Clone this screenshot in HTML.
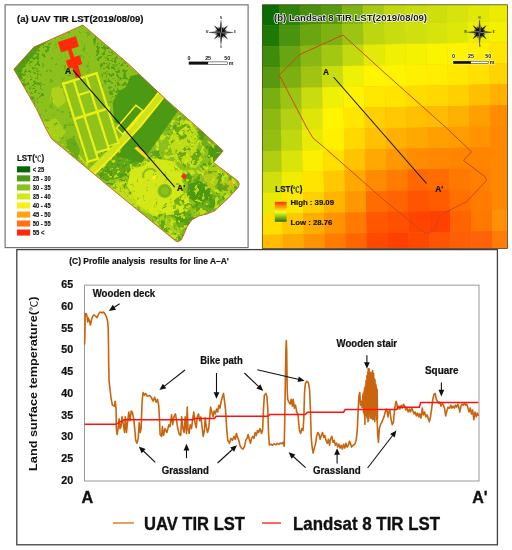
<!DOCTYPE html>
<html lang="en"><head><meta charset="utf-8"><title>UAV TIR LST and Landsat 8 TIR LST profile analysis</title>
<style>html,body{margin:0;padding:0;background:#fff;}svg{display:block;filter:blur(0.35px);}text{font-family:"Liberation Sans","Noto Sans CJK KR",sans-serif;font-weight:bold;}</style></head><body>
<svg width="512" height="550" viewBox="0 0 512 550">
<rect x="0" y="0" width="512" height="550" fill="#fff"/>
<defs>
<clipPath id="clipA"><polygon points="82.9,25.0 128.0,63.5 166.6,100.0 200.0,129.5 223.2,150.8 213.5,162.5 237.9,181.0 239.3,184.0 238.2,187.5 228.0,198.5 214.5,211.0 207.0,214.0 198.8,216.0 192.0,219.8 187.1,226.6 184.5,233.0 181.5,239.8 178.5,241.6 176.3,241.5 128.0,202.2 110.0,187.4 51.5,138.8 45.5,128.0 36.4,108.8 13.9,69.2 33.7,47.2"/></clipPath>
<filter id="fDark" x="0" y="0" width="100%" height="100%" color-interpolation-filters="sRGB"><feTurbulence type="fractalNoise" baseFrequency="0.22" numOctaves="3" seed="4"/><feColorMatrix type="matrix" values="0 0 0 0 0.298  0 0 0 0 0.604  0 0 0 0 0.078  14 0 0 0 -9.0"/></filter>
<filter id="fDark2" x="0" y="0" width="100%" height="100%" color-interpolation-filters="sRGB"><feTurbulence type="fractalNoise" baseFrequency="0.3" numOctaves="2" seed="11"/><feColorMatrix type="matrix" values="0 0 0 0 0.298  0 0 0 0 0.604  0 0 0 0 0.078  16 0 0 0 -8.8"/></filter>
<filter id="fLight" x="0" y="0" width="100%" height="100%" color-interpolation-filters="sRGB"><feTurbulence type="fractalNoise" baseFrequency="0.14" numOctaves="3" seed="23"/><feColorMatrix type="matrix" values="0 0 0 0 0.549  0 0 0 0 0.753  0 0 0 0 0.11  0 16 0 0 -8.0"/></filter>
<filter id="fYG" x="0" y="0" width="100%" height="100%" color-interpolation-filters="sRGB"><feTurbulence type="fractalNoise" baseFrequency="0.2" numOctaves="3" seed="31"/><feColorMatrix type="matrix" values="0 0 0 0 0.831  0 0 0 0 0.91  0 0 0 0 0.09  0 0 14 0 -8.2"/></filter>
<clipPath id="clipLow"><polygon points="40,120 92,178 166,94 245,180 180,245"/></clipPath>
<clipPath id="clipUL"><polygon points="13,69 33,47 56,38 50,52 42,60 38,76 44,96 34,104"/><polygon points="92,28 128,63 128,84 112,100 100,72 94,50"/><polygon points="84,150 122,146 152,162 130,196 100,180"/></clipPath>
<clipPath id="clipR"><polygon points="166,100 242,184 178,246 150,216 186,192 182,164 168,140"/></clipPath>
<filter id="fDark3" x="0" y="0" width="100%" height="100%" color-interpolation-filters="sRGB"><feTurbulence type="fractalNoise" baseFrequency="0.12" numOctaves="3" seed="57"/><feColorMatrix type="matrix" values="0 0 0 0 0.298  0 0 0 0 0.604  0 0 0 0 0.078  0 16 0 0 -8.4"/></filter>
</defs>
<rect x="5.1" y="4.85" width="243" height="242.75" fill="#fff" stroke="#707070" stroke-width="1.15"/>
<g clip-path="url(#clipA)">
<rect x="0" y="0" width="256" height="256" fill="#8cc01c"/>
<polygon points="13.9,69.2 34.0,46.8 46.0,41.5 40.0,47.0 36.0,53.0 26.0,64.0 21.0,71.0 22.5,80.0 19.0,79.0" fill="#4c9a14" opacity="0.9"/>
<g clip-path="url(#clipUL)"><rect x="0" y="0" width="256" height="256" filter="url(#fDark2)" opacity="0.85"/></g>
<polygon points="208.6,147.0 218.0,145.0 223.0,151.0 214.0,161.5 208.0,158.0" fill="#4c9a14" />
<polygon points="188.0,184.0 200.0,181.0 211.0,188.0 208.0,200.0 196.0,203.0 187.0,196.0" fill="#4c9a14" />
<polygon points="199.0,126.0 206.0,134.0 201.0,141.0 194.0,134.0" fill="#4c9a14" opacity="0.7"/>
<polygon points="99.0,172.0 124.0,146.0 134.0,152.0 140.0,162.0 126.0,176.0 112.0,180.0 104.0,180.0" fill="#4c9a14" opacity="0.6"/>
<polygon points="66.0,140.0 74.0,137.0 80.0,150.0 78.0,159.0 70.0,156.0" fill="#4c9a14" opacity="0.55"/>
<polygon points="168.0,205.0 186.0,209.0 184.0,222.0 172.0,226.0 165.0,216.0" fill="#4c9a14" opacity="0.6"/>
<polygon points="150.0,152.0 158.0,150.0 162.0,160.0 152.0,164.0" fill="#4c9a14" opacity="0.7"/>
<polygon points="131.0,169.0 143.0,166.0 153.0,158.0 172.0,161.0 182.0,171.0 183.0,192.0 191.0,204.0 181.0,214.0 153.0,216.0 138.0,204.0 127.0,186.0" fill="#d4e817" />
<polygon points="181.0,120.0 190.0,121.0 201.0,138.0 196.0,150.0 203.0,160.0 196.0,168.0 184.0,166.0 174.0,158.0 168.0,140.0" fill="#d4e817" opacity="0.7"/>
<polygon points="199.0,166.0 214.0,163.0 236.0,181.0 238.0,186.0 228.0,199.0 212.0,190.0 204.0,180.0" fill="#d4e817" opacity="0.4"/>
<polygon points="52.0,88.0 62.0,86.0 66.0,102.0 58.0,108.0 50.0,100.0" fill="#d4e817" opacity="0.45"/>
<polygon points="43.0,122.0 56.0,118.0 66.0,132.0 58.0,142.0 50.0,136.0" fill="#d4e817" opacity="0.4"/>
<polygon points="110.0,188.0 128.0,203.0 150.0,215.0 140.0,205.0 126.0,190.0 118.0,180.0" fill="#d4e817" opacity="0.7"/>
<polygon points="160.0,212.0 175.0,218.0 180.0,232.0 175.0,240.0 160.0,228.0" fill="#d4e817" opacity="0.4"/>
<polygon points="196.0,197.0 212.0,193.0 222.0,200.0 210.0,212.0 196.0,211.0" fill="#4c9a14" opacity="0.5"/>
<polygon points="176.0,214.0 190.0,210.0 192.0,220.0 184.0,230.0 176.0,226.0" fill="#4c9a14" opacity="0.45"/>
<polygon points="200.0,128.0 214.0,142.0 208.0,150.0 196.0,140.0" fill="#4c9a14" opacity="0.45"/>
<rect x="0" y="0" width="256" height="256" filter="url(#fDark)" opacity="0.5"/>
<g clip-path="url(#clipR)"><rect x="0" y="0" width="256" height="256" filter="url(#fDark3)" opacity="0.75"/></g>
<g clip-path="url(#clipLow)"><rect x="0" y="0" width="256" height="256" filter="url(#fYG)" opacity="0.8"/></g>
<polygon points="139.5,74.0 161.0,94.5 139.0,121.5 128.0,120.0 121.0,126.0 114.5,122.0 112.5,103.0 118.0,92.0 126.0,87.0 130.5,76.0" fill="#4c9a14" />
<polygon points="162.4,96.2 178.0,111.0 166.0,128.0 152.0,148.0 141.5,163.0 131.0,160.0 118.5,157.0 122.7,145.7 140.3,126.4" fill="#4c9a14" />
<polyline points="89.1,173.7 91.7,171.0 111.0,151.7 125.1,136.8 137.4,123.6 157.1,99.0 161.1,93.7" fill="none" stroke="#cfe418" stroke-width="6.2"/>
<polyline points="92.0,176.5 94.6,173.8 113.9,154.5 128.0,139.6 140.3,126.4 160.0,101.8 164.0,96.5" fill="none" stroke="#ffec1a" stroke-width="2.0"/>
<polyline points="128.0,130.0 135.3,121.6 155.0,97.0 159.0,91.7" fill="none" stroke="#ffec1a" stroke-width="1.6"/>
<polygon points="116.6,128.1 135.9,105.3 142.9,110.5 122.7,134.3" fill="#4c9a14" stroke="#ffec1a" stroke-width="1.5"/>
<polygon points="63.2,83.7 96.6,73.2 118.5,142.8 108.0,146.1 108.9,149.0 96.5,152.9 98.3,158.6 87.9,161.9" fill="#90c21c" />
<line x1="63.2" y1="83.7" x2="96.6" y2="73.2" stroke="#e8ee16" stroke-width="2.3" stroke-linecap="square"/>
<line x1="63.2" y1="83.7" x2="87.9" y2="161.9" stroke="#e8ee16" stroke-width="2.3" stroke-linecap="square"/>
<line x1="96.6" y1="73.2" x2="118.5" y2="142.8" stroke="#e8ee16" stroke-width="2.3" stroke-linecap="square"/>
<line x1="73.7" y1="80.4" x2="84.8" y2="115.7" stroke="#e8ee16" stroke-width="2.3" stroke-linecap="square"/>
<line x1="86.1" y1="76.5" x2="97.2" y2="111.8" stroke="#e8ee16" stroke-width="2.3" stroke-linecap="square"/>
<line x1="78.3" y1="95.0" x2="90.7" y2="91.1" stroke="#e8ee16" stroke-width="2.3" stroke-linecap="square"/>
<line x1="74.3" y1="119.0" x2="108.7" y2="108.2" stroke="#e8ee16" stroke-width="2.7" stroke-linecap="square"/>
<line x1="84.3" y1="115.8" x2="97.9" y2="158.7" stroke="#e8ee16" stroke-width="2.3" stroke-linecap="square"/>
<line x1="97.2" y1="111.8" x2="108.9" y2="149.0" stroke="#e8ee16" stroke-width="2.3" stroke-linecap="square"/>
<line x1="87.9" y1="161.9" x2="97.9" y2="158.7" stroke="#e8ee16" stroke-width="2.3" stroke-linecap="square"/>
<line x1="95.9" y1="152.5" x2="108.9" y2="149.0" stroke="#e8ee16" stroke-width="2.3" stroke-linecap="square"/>
<line x1="108.0" y1="146.1" x2="118.5" y2="142.8" stroke="#e8ee16" stroke-width="1.2" stroke-linecap="square"/>
<polygon points="57.8,42.0 75.9,36.2 78.9,46.4 71.5,48.7 74.2,56.9 79.4,55.2 82.4,63.9 78.2,65.4 81.2,76.2 75.9,78.0 72.4,67.5 68.9,68.7 65.7,60.8 70.6,59.0 68.0,50.2 61.0,52.2" fill="#ff2a0a" />
<circle cx="164.7" cy="191" r="7.2" fill="#8cc01c"/>
<circle cx="164.7" cy="191" r="5" fill="none" stroke="#4c9a14" stroke-width="0.8" opacity="0.7"/>
<path d="M143.5 178 A7 7 0 0 1 156 172" fill="none" stroke="#8cc01c" stroke-width="2.2"/>
<ellipse cx="154" cy="177.3" rx="2.4" ry="1.7" transform="rotate(-40 154 177.3)" fill="#ffec1a"/>
<polygon points="134.2,148.3 137.0,146.5 148.5,156.5 146.5,159.0" fill="#ffd81a" />
<polygon points="183.8,173.2 186.9,176.2 183.9,179.3 180.8,176.3" fill="#ff2a0a" />
<line x1="207.0" y1="170.5" x2="205.2" y2="172.9" stroke="#ffa514" stroke-width="1"/>
<line x1="210.6" y1="173.2" x2="208.8" y2="175.6" stroke="#ffa514" stroke-width="1"/>
<line x1="214.2" y1="175.9" x2="212.4" y2="178.3" stroke="#ffa514" stroke-width="1"/>
<line x1="217.8" y1="178.6" x2="216.0" y2="181.0" stroke="#ffa514" stroke-width="1"/>
<line x1="221.4" y1="181.3" x2="219.6" y2="183.7" stroke="#ffa514" stroke-width="1"/>
<line x1="225.0" y1="184.0" x2="223.2" y2="186.4" stroke="#ffa514" stroke-width="1"/>
<line x1="228.6" y1="186.7" x2="226.8" y2="189.1" stroke="#ffa514" stroke-width="1"/>
<line x1="203.0" y1="177.0" x2="201.2" y2="179.4" stroke="#ffa514" stroke-width="1"/>
<line x1="206.6" y1="179.7" x2="204.8" y2="182.1" stroke="#ffa514" stroke-width="1"/>
<line x1="210.2" y1="182.4" x2="208.4" y2="184.8" stroke="#ffa514" stroke-width="1"/>
<line x1="213.8" y1="185.1" x2="212.0" y2="187.5" stroke="#ffa514" stroke-width="1"/>
<ellipse cx="231" cy="183" rx="1.6" ry="2.4" fill="#ffa514"/>
</g>
<polygon points="82.9,25.0 128.0,63.5 166.6,100.0 200.0,129.5 223.2,150.8 213.5,162.5 237.9,181.0 239.3,184.0 238.2,187.5 228.0,198.5 214.5,211.0 207.0,214.0 198.8,216.0 192.0,219.8 187.1,226.6 184.5,233.0 181.5,239.8 178.5,241.6 176.3,241.5 128.0,202.2 110.0,187.4 51.5,138.8 45.5,128.0 36.4,108.8 13.9,69.2 33.7,47.2" fill="none" stroke="#c9642a" stroke-width="0.9"/>
<line x1="73.1" y1="70.2" x2="174.8" y2="187.2" stroke="#111" stroke-width="1.05"/>
<text x="65.0" y="74.0" font-size="8.5" fill="#111" stroke="#111" stroke-width="0.19" >A</text>
<text x="177.1" y="190.9" font-size="8.5" fill="#111" stroke="#111" stroke-width="0.19" >A'</text>
<text x="17.0" y="21.5" font-size="9.8" fill="#111" stroke="#111" stroke-width="0.22" textLength="126.5" lengthAdjust="spacingAndGlyphs" >(a) UAV TIR LST(2019/08/09)</text>
<g transform="translate(221.0,32.4)"><polygon points="2.3,-5.6 1.7,-1.7 5.6,-2.3 2.4,-0.0 5.6,2.3 1.7,1.7 2.3,5.6 0.0,2.4 -2.3,5.6 -1.7,1.7 -5.6,2.3 -2.4,0.0 -5.6,-2.3 -1.7,-1.7 -2.3,-5.6 -0.0,-2.4" fill="#222" stroke="#111" stroke-width="0.25"/><polygon points="6.6,-6.6 2.1,-0.0 6.6,6.6 0.0,2.1 -6.6,6.6 -2.1,0.0 -6.6,-6.6 -0.0,-2.1" fill="#151515" stroke="#111" stroke-width="0.25"/><polygon points="0.0,-12.2 1.3,-1.3 12.2,-0.0 1.3,1.3 0.0,12.2 -1.3,1.3 -12.2,0.0 -1.3,-1.3" fill="#111" stroke="#111" stroke-width="0.25"/><polygon points="0.0,0.0 0.0,-11.5 1.0,-1.0" fill="#fff" opacity="0.55"/><polygon points="0.0,0.0 11.5,-0.0 1.0,1.0" fill="#fff" opacity="0.55"/><polygon points="0.0,0.0 0.0,11.5 -1.0,1.0" fill="#fff" opacity="0.55"/><polygon points="0.0,0.0 -11.5,0.0 -1.0,-1.0" fill="#fff" opacity="0.55"/><text x="0.0" y="-13.1" font-size="2.8" text-anchor="middle" fill="#333">N</text><text x="14.0" y="1.0" font-size="2.8" text-anchor="middle" fill="#333">E</text><text x="0.0" y="15.2" font-size="2.8" text-anchor="middle" fill="#333">S</text><text x="-14.0" y="1.0" font-size="2.8" text-anchor="middle" fill="#333">W</text></g>
<rect x="189.0" y="61.9" width="38.2" height="2.4" fill="#fff" stroke="#fff" stroke-width="1.6" opacity="0.7"/><rect x="189.0" y="61.9" width="38.2" height="2.4" fill="#fff" stroke="#111" stroke-width="0.5"/><rect x="189.0" y="61.9" width="19.1" height="2.4" fill="#111"/><text x="189.0" y="59.5" font-size="5.3" text-anchor="middle" fill="#111" stroke="#fff" stroke-width="1.2" stroke-opacity="0.7" paint-order="stroke">0</text><text x="208.1" y="59.5" font-size="5.3" text-anchor="middle" fill="#111" stroke="#fff" stroke-width="1.2" stroke-opacity="0.7" paint-order="stroke">25</text><text x="227.2" y="59.5" font-size="5.3" text-anchor="middle" fill="#111" stroke="#fff" stroke-width="1.2" stroke-opacity="0.7" paint-order="stroke">50</text><text x="228.8" y="64.5" font-size="5.3" fill="#111" stroke="#fff" stroke-width="1.2" stroke-opacity="0.7" paint-order="stroke">m</text>
<text x="16.9" y="160.8" font-size="8.4" fill="#111" stroke="#111" stroke-width="0.18" textLength="27.3" lengthAdjust="spacingAndGlyphs" >LST(<tspan font-size="0.82em" font-weight="normal">℃</tspan>)</text>
<rect x="16.9" y="166.3" width="13.3" height="6.1" fill="#066606"/>
<text x="32.8" y="171.9" font-size="6.4" fill="#111" stroke="#111" stroke-width="0.14" textLength="11.6" lengthAdjust="spacingAndGlyphs" >&lt; 25</text>
<rect x="16.9" y="175.3" width="13.3" height="6.1" fill="#4c9a14"/>
<text x="32.8" y="180.9" font-size="6.4" fill="#111" stroke="#111" stroke-width="0.14" textLength="17.9" lengthAdjust="spacingAndGlyphs" >25 - 30</text>
<rect x="16.9" y="184.4" width="13.3" height="6.1" fill="#8cc01c"/>
<text x="32.8" y="190.0" font-size="6.4" fill="#111" stroke="#111" stroke-width="0.14" textLength="17.9" lengthAdjust="spacingAndGlyphs" >30 - 35</text>
<rect x="16.9" y="193.4" width="13.3" height="6.1" fill="#d4e817"/>
<text x="32.8" y="199.0" font-size="6.4" fill="#111" stroke="#111" stroke-width="0.14" textLength="17.9" lengthAdjust="spacingAndGlyphs" >35 - 40</text>
<rect x="16.9" y="202.4" width="13.3" height="6.1" fill="#ffec1a"/>
<text x="32.8" y="208.0" font-size="6.4" fill="#111" stroke="#111" stroke-width="0.14" textLength="17.9" lengthAdjust="spacingAndGlyphs" >40 - 45</text>
<rect x="16.9" y="211.5" width="13.3" height="6.1" fill="#ffa514"/>
<text x="32.8" y="217.1" font-size="6.4" fill="#111" stroke="#111" stroke-width="0.14" textLength="17.9" lengthAdjust="spacingAndGlyphs" >45 - 50</text>
<rect x="16.9" y="220.5" width="13.3" height="6.1" fill="#ff7314"/>
<text x="32.8" y="226.1" font-size="6.4" fill="#111" stroke="#111" stroke-width="0.14" textLength="17.9" lengthAdjust="spacingAndGlyphs" >50 - 55</text>
<rect x="16.9" y="229.5" width="13.3" height="6.1" fill="#ff2a0a"/>
<text x="32.8" y="235.1" font-size="6.4" fill="#111" stroke="#111" stroke-width="0.14" textLength="11.6" lengthAdjust="spacingAndGlyphs" >55 &lt;</text>
<defs><clipPath id="clipB"><rect x="262.3" y="4.8" width="245.2" height="243.6"/></clipPath></defs>
<g clip-path="url(#clipB)"><g transform="rotate(-0.97 300 50)">
<rect x="240" y="-10" width="290" height="280" fill="#ff9000"/>
<rect x="250.65" y="-4.25" width="29.20" height="29.20" fill="#0a6c02"/>
<rect x="279.60" y="-4.25" width="21.20" height="29.20" fill="#2f830b"/>
<rect x="300.55" y="-4.25" width="21.20" height="29.20" fill="#4a900e"/>
<rect x="321.50" y="-4.25" width="21.20" height="29.20" fill="#5a9a10"/>
<rect x="342.45" y="-4.25" width="21.20" height="29.20" fill="#80b412"/>
<rect x="363.40" y="-4.25" width="21.20" height="29.20" fill="#a8cb12"/>
<rect x="384.35" y="-4.25" width="21.20" height="29.20" fill="#c0d810"/>
<rect x="405.30" y="-4.25" width="21.20" height="29.20" fill="#c8dc10"/>
<rect x="426.25" y="-4.25" width="21.20" height="29.20" fill="#cde00e"/>
<rect x="447.20" y="-4.25" width="21.20" height="29.20" fill="#d4e40c"/>
<rect x="468.15" y="-4.25" width="21.20" height="29.20" fill="#e0e808"/>
<rect x="489.10" y="-4.25" width="29.20" height="29.20" fill="#eaec04"/>
<rect x="250.65" y="24.70" width="29.20" height="21.20" fill="#1e7804"/>
<rect x="279.60" y="24.70" width="21.20" height="21.20" fill="#4a930e"/>
<rect x="300.55" y="24.70" width="21.20" height="21.20" fill="#6aa610"/>
<rect x="321.50" y="24.70" width="21.20" height="21.20" fill="#7db212"/>
<rect x="342.45" y="24.70" width="21.20" height="21.20" fill="#9cc412"/>
<rect x="363.40" y="24.70" width="21.20" height="21.20" fill="#bcd610"/>
<rect x="384.35" y="24.70" width="21.20" height="21.20" fill="#c8dc10"/>
<rect x="405.30" y="24.70" width="21.20" height="21.20" fill="#cfe00e"/>
<rect x="426.25" y="24.70" width="21.20" height="21.20" fill="#d4e40c"/>
<rect x="447.20" y="24.70" width="21.20" height="21.20" fill="#dde808"/>
<rect x="468.15" y="24.70" width="21.20" height="21.20" fill="#ecee03"/>
<rect x="489.10" y="24.70" width="29.20" height="21.20" fill="#f5f000"/>
<rect x="250.65" y="45.65" width="29.20" height="21.20" fill="#3f8c0c"/>
<rect x="279.60" y="45.65" width="21.20" height="21.20" fill="#68a510"/>
<rect x="300.55" y="45.65" width="21.20" height="21.20" fill="#88b912"/>
<rect x="321.50" y="45.65" width="21.20" height="21.20" fill="#a2c812"/>
<rect x="342.45" y="45.65" width="21.20" height="21.20" fill="#c2da10"/>
<rect x="363.40" y="45.65" width="21.20" height="21.20" fill="#e2ea08"/>
<rect x="384.35" y="45.65" width="21.20" height="21.20" fill="#f0f003"/>
<rect x="405.30" y="45.65" width="21.20" height="21.20" fill="#f5f200"/>
<rect x="426.25" y="45.65" width="21.20" height="21.20" fill="#fbf400"/>
<rect x="447.20" y="45.65" width="21.20" height="21.20" fill="#fff400"/>
<rect x="468.15" y="45.65" width="21.20" height="21.20" fill="#fff000"/>
<rect x="489.10" y="45.65" width="29.20" height="21.20" fill="#ffe600"/>
<rect x="250.65" y="66.60" width="29.20" height="21.20" fill="#58990f"/>
<rect x="279.60" y="66.60" width="21.20" height="21.20" fill="#7cb011"/>
<rect x="300.55" y="66.60" width="21.20" height="21.20" fill="#a0c411"/>
<rect x="321.50" y="66.60" width="21.20" height="21.20" fill="#c8dc10"/>
<rect x="342.45" y="66.60" width="21.20" height="21.20" fill="#eef005"/>
<rect x="363.40" y="66.60" width="21.20" height="21.20" fill="#fff500"/>
<rect x="384.35" y="66.60" width="21.20" height="21.20" fill="#fff400"/>
<rect x="405.30" y="66.60" width="21.20" height="21.20" fill="#fff000"/>
<rect x="426.25" y="66.60" width="21.20" height="21.20" fill="#ffee00"/>
<rect x="447.20" y="66.60" width="21.20" height="21.20" fill="#ffe800"/>
<rect x="468.15" y="66.60" width="21.20" height="21.20" fill="#ffe000"/>
<rect x="489.10" y="66.60" width="29.20" height="21.20" fill="#ffd400"/>
<rect x="250.65" y="87.55" width="29.20" height="21.20" fill="#78b012"/>
<rect x="279.60" y="87.55" width="21.20" height="21.20" fill="#9cc412"/>
<rect x="300.55" y="87.55" width="21.20" height="21.20" fill="#c8dc10"/>
<rect x="321.50" y="87.55" width="21.20" height="21.20" fill="#eef005"/>
<rect x="342.45" y="87.55" width="21.20" height="21.20" fill="#fff200"/>
<rect x="363.40" y="87.55" width="21.20" height="21.20" fill="#ffe800"/>
<rect x="384.35" y="87.55" width="21.20" height="21.20" fill="#ffe400"/>
<rect x="405.30" y="87.55" width="21.20" height="21.20" fill="#ffdc00"/>
<rect x="426.25" y="87.55" width="21.20" height="21.20" fill="#ffd800"/>
<rect x="447.20" y="87.55" width="21.20" height="21.20" fill="#ffd000"/>
<rect x="468.15" y="87.55" width="21.20" height="21.20" fill="#ffc000"/>
<rect x="489.10" y="87.55" width="29.20" height="21.20" fill="#ffb000"/>
<rect x="250.65" y="108.50" width="29.20" height="21.20" fill="#8cba12"/>
<rect x="279.60" y="108.50" width="21.20" height="21.20" fill="#b4d012"/>
<rect x="300.55" y="108.50" width="21.20" height="21.20" fill="#dde608"/>
<rect x="321.50" y="108.50" width="21.20" height="21.20" fill="#fff500"/>
<rect x="342.45" y="108.50" width="21.20" height="21.20" fill="#ffe600"/>
<rect x="363.40" y="108.50" width="21.20" height="21.20" fill="#ffd000"/>
<rect x="384.35" y="108.50" width="21.20" height="21.20" fill="#ffc800"/>
<rect x="405.30" y="108.50" width="21.20" height="21.20" fill="#ffc000"/>
<rect x="426.25" y="108.50" width="21.20" height="21.20" fill="#ffbc00"/>
<rect x="447.20" y="108.50" width="21.20" height="21.20" fill="#ffb000"/>
<rect x="468.15" y="108.50" width="21.20" height="21.20" fill="#ffa000"/>
<rect x="489.10" y="108.50" width="29.20" height="21.20" fill="#ff8c00"/>
<rect x="250.65" y="129.45" width="29.20" height="21.20" fill="#94be12"/>
<rect x="279.60" y="129.45" width="21.20" height="21.20" fill="#c0d810"/>
<rect x="300.55" y="129.45" width="21.20" height="21.20" fill="#e8ec05"/>
<rect x="321.50" y="129.45" width="21.20" height="21.20" fill="#fff000"/>
<rect x="342.45" y="129.45" width="21.20" height="21.20" fill="#ffd800"/>
<rect x="363.40" y="129.45" width="21.20" height="21.20" fill="#ffc000"/>
<rect x="384.35" y="129.45" width="21.20" height="21.20" fill="#ffb000"/>
<rect x="405.30" y="129.45" width="21.20" height="21.20" fill="#ffa800"/>
<rect x="426.25" y="129.45" width="21.20" height="21.20" fill="#ffa000"/>
<rect x="447.20" y="129.45" width="21.20" height="21.20" fill="#ff9c00"/>
<rect x="468.15" y="129.45" width="21.20" height="21.20" fill="#ff9400"/>
<rect x="489.10" y="129.45" width="29.20" height="21.20" fill="#ff8800"/>
<rect x="250.65" y="150.40" width="29.20" height="21.20" fill="#b0cf12"/>
<rect x="279.60" y="150.40" width="21.20" height="21.20" fill="#d8e40a"/>
<rect x="300.55" y="150.40" width="21.20" height="21.20" fill="#fbf000"/>
<rect x="321.50" y="150.40" width="21.20" height="21.20" fill="#ffe000"/>
<rect x="342.45" y="150.40" width="21.20" height="21.20" fill="#ffc400"/>
<rect x="363.40" y="150.40" width="21.20" height="21.20" fill="#ffa800"/>
<rect x="384.35" y="150.40" width="21.20" height="21.20" fill="#ff9800"/>
<rect x="405.30" y="150.40" width="21.20" height="21.20" fill="#ff8c00"/>
<rect x="426.25" y="150.40" width="21.20" height="21.20" fill="#ff8800"/>
<rect x="447.20" y="150.40" width="21.20" height="21.20" fill="#ff8400"/>
<rect x="468.15" y="150.40" width="21.20" height="21.20" fill="#ff8400"/>
<rect x="489.10" y="150.40" width="29.20" height="21.20" fill="#ff8800"/>
<rect x="250.65" y="171.35" width="29.20" height="21.20" fill="#d0e00c"/>
<rect x="279.60" y="171.35" width="21.20" height="21.20" fill="#f0ec04"/>
<rect x="300.55" y="171.35" width="21.20" height="21.20" fill="#ffe400"/>
<rect x="321.50" y="171.35" width="21.20" height="21.20" fill="#ffc800"/>
<rect x="342.45" y="171.35" width="21.20" height="21.20" fill="#ffa800"/>
<rect x="363.40" y="171.35" width="21.20" height="21.20" fill="#ff8c00"/>
<rect x="384.35" y="171.35" width="21.20" height="21.20" fill="#ff7c00"/>
<rect x="405.30" y="171.35" width="21.20" height="21.20" fill="#ff6800"/>
<rect x="426.25" y="171.35" width="21.20" height="21.20" fill="#ff6c00"/>
<rect x="447.20" y="171.35" width="21.20" height="21.20" fill="#ff7800"/>
<rect x="468.15" y="171.35" width="21.20" height="21.20" fill="#ff8000"/>
<rect x="489.10" y="171.35" width="29.20" height="21.20" fill="#ff8800"/>
<rect x="250.65" y="192.30" width="29.20" height="21.20" fill="#e8ea06"/>
<rect x="279.60" y="192.30" width="21.20" height="21.20" fill="#fce800"/>
<rect x="300.55" y="192.30" width="21.20" height="21.20" fill="#ffd000"/>
<rect x="321.50" y="192.30" width="21.20" height="21.20" fill="#ffb400"/>
<rect x="342.45" y="192.30" width="21.20" height="21.20" fill="#ff9800"/>
<rect x="363.40" y="192.30" width="21.20" height="21.20" fill="#ff6c00"/>
<rect x="384.35" y="192.30" width="21.20" height="21.20" fill="#ff6400"/>
<rect x="405.30" y="192.30" width="21.20" height="21.20" fill="#ff5400"/>
<rect x="426.25" y="192.30" width="21.20" height="21.20" fill="#ff5c00"/>
<rect x="447.20" y="192.30" width="21.20" height="21.20" fill="#ff7000"/>
<rect x="468.15" y="192.30" width="21.20" height="21.20" fill="#ff7c00"/>
<rect x="489.10" y="192.30" width="29.20" height="21.20" fill="#ff8800"/>
<rect x="250.65" y="213.25" width="29.20" height="21.20" fill="#ffde00"/>
<rect x="279.60" y="213.25" width="21.20" height="21.20" fill="#ffc800"/>
<rect x="300.55" y="213.25" width="21.20" height="21.20" fill="#ffac00"/>
<rect x="321.50" y="213.25" width="21.20" height="21.20" fill="#ff9400"/>
<rect x="342.45" y="213.25" width="21.20" height="21.20" fill="#ff7a00"/>
<rect x="363.40" y="213.25" width="21.20" height="21.20" fill="#ff5800"/>
<rect x="384.35" y="213.25" width="21.20" height="21.20" fill="#ff5000"/>
<rect x="405.30" y="213.25" width="21.20" height="21.20" fill="#ff4400"/>
<rect x="426.25" y="213.25" width="21.20" height="21.20" fill="#ff4000"/>
<rect x="447.20" y="213.25" width="21.20" height="21.20" fill="#ff6400"/>
<rect x="468.15" y="213.25" width="21.20" height="21.20" fill="#ff7800"/>
<rect x="489.10" y="213.25" width="29.20" height="21.20" fill="#ff9008"/>
<rect x="250.65" y="234.20" width="29.20" height="29.20" fill="#ffbc00"/>
<rect x="279.60" y="234.20" width="21.20" height="29.20" fill="#ffa800"/>
<rect x="300.55" y="234.20" width="21.20" height="29.20" fill="#ff9400"/>
<rect x="321.50" y="234.20" width="21.20" height="29.20" fill="#ff7c00"/>
<rect x="342.45" y="234.20" width="21.20" height="29.20" fill="#ff6600"/>
<rect x="363.40" y="234.20" width="21.20" height="29.20" fill="#ff4800"/>
<rect x="384.35" y="234.20" width="21.20" height="29.20" fill="#ff4000"/>
<rect x="405.30" y="234.20" width="21.20" height="29.20" fill="#ff4800"/>
<rect x="426.25" y="234.20" width="21.20" height="29.20" fill="#ff5400"/>
<rect x="447.20" y="234.20" width="21.20" height="29.20" fill="#ff5e08"/>
<rect x="468.15" y="234.20" width="21.20" height="29.20" fill="#ff6208"/>
<rect x="489.10" y="234.20" width="29.20" height="29.20" fill="#ff7c08"/>
</g></g>
<rect x="262.3" y="4.8" width="245.2" height="243.6" fill="none" stroke="#3a3a2a" stroke-width="0.7"/>
<polygon points="343.0,35.0 299.8,54.5 279.2,75.0 307.0,128.0 313.0,138.0 323.5,146.8 384.0,200.0 421.5,230.5 425.0,233.0 429.0,233.3 433.0,230.0 436.5,226.8 437.8,219.0 444.0,213.0 451.5,209.2 466.5,201.8 486.5,180.5 485.2,176.8 463.5,160.5 471.5,151.8 446.5,128.0 384.0,72.3" fill="none" stroke="#cc4818" stroke-width="1.0"/>
<line x1="333.5" y1="77" x2="426.5" y2="183.5" stroke="#111" stroke-width="1.05"/>
<text x="323.0" y="74.5" font-size="8.4" fill="#111" stroke="#111" stroke-width="0.18" >A</text>
<text x="435.2" y="191.6" font-size="8.4" fill="#111" stroke="#111" stroke-width="0.18" >A'</text>
<text x="274" y="21" font-size="9.8" textLength="153" lengthAdjust="spacingAndGlyphs" fill="#222" stroke="#fff" stroke-width="1.6" stroke-linejoin="round" stroke-opacity="0.85" paint-order="stroke">(b) Landsat 8 TIR LST(2019/08/09)</text>
<g transform="translate(479.6,32.2)"><polygon points="2.3,-5.6 1.7,-1.7 5.6,-2.3 2.4,-0.0 5.6,2.3 1.7,1.7 2.3,5.6 0.0,2.4 -2.3,5.6 -1.7,1.7 -5.6,2.3 -2.4,0.0 -5.6,-2.3 -1.7,-1.7 -2.3,-5.6 -0.0,-2.4" fill="#222" stroke="#111" stroke-width="0.25"/><polygon points="6.6,-6.6 2.1,-0.0 6.6,6.6 0.0,2.1 -6.6,6.6 -2.1,0.0 -6.6,-6.6 -0.0,-2.1" fill="#151515" stroke="#111" stroke-width="0.25"/><polygon points="0.0,-12.2 1.3,-1.3 12.2,-0.0 1.3,1.3 0.0,12.2 -1.3,1.3 -12.2,0.0 -1.3,-1.3" fill="#111" stroke="#111" stroke-width="0.25"/><polygon points="0.0,0.0 0.0,-11.5 1.0,-1.0" fill="#fff" opacity="0.55"/><polygon points="0.0,0.0 11.5,-0.0 1.0,1.0" fill="#fff" opacity="0.55"/><polygon points="0.0,0.0 0.0,11.5 -1.0,1.0" fill="#fff" opacity="0.55"/><polygon points="0.0,0.0 -11.5,0.0 -1.0,-1.0" fill="#fff" opacity="0.55"/><text x="0.0" y="-13.1" font-size="2.8" text-anchor="middle" fill="#333">N</text><text x="14.0" y="1.0" font-size="2.8" text-anchor="middle" fill="#333">E</text><text x="0.0" y="15.2" font-size="2.8" text-anchor="middle" fill="#333">S</text><text x="-14.0" y="1.0" font-size="2.8" text-anchor="middle" fill="#333">W</text></g>
<rect x="453.6" y="61.2" width="34.6" height="2.4" fill="#fff" stroke="#fff" stroke-width="1.6" opacity="0.7"/><rect x="453.6" y="61.2" width="34.6" height="2.4" fill="#fff" stroke="#111" stroke-width="0.5"/><rect x="453.6" y="61.2" width="17.3" height="2.4" fill="#111"/><text x="453.6" y="57.9" font-size="5.3" text-anchor="middle" fill="#111" stroke="#fff" stroke-width="1.2" stroke-opacity="0.7" paint-order="stroke">0</text><text x="470.9" y="57.9" font-size="5.3" text-anchor="middle" fill="#111" stroke="#fff" stroke-width="1.2" stroke-opacity="0.7" paint-order="stroke">25</text><text x="488.2" y="57.9" font-size="5.3" text-anchor="middle" fill="#111" stroke="#fff" stroke-width="1.2" stroke-opacity="0.7" paint-order="stroke">50</text><text x="489.8" y="63.8" font-size="5.3" fill="#111" stroke="#fff" stroke-width="1.2" stroke-opacity="0.7" paint-order="stroke">m</text>
<defs><linearGradient id="rampB" x1="0" y1="0" x2="0" y2="1"><stop offset="0" stop-color="#ff3000"/><stop offset="0.25" stop-color="#ff9a00"/><stop offset="0.5" stop-color="#ffff20"/><stop offset="0.75" stop-color="#8cc010"/><stop offset="1" stop-color="#267300"/></linearGradient></defs>
<text x="275.3" y="192.3" font-size="8.4" fill="#111" stroke="#111" stroke-width="0.18" textLength="27.0" lengthAdjust="spacingAndGlyphs" >LST(<tspan font-size="0.82em" font-weight="normal">℃</tspan>)</text>
<rect x="274.8" y="201.8" width="11.8" height="20" fill="url(#rampB)"/>
<text x="290.5" y="204.6" font-size="7.9" fill="#111" stroke="#111" stroke-width="0.17" textLength="43.5" lengthAdjust="spacingAndGlyphs" >High : 39.09</text>
<text x="290.5" y="224.6" font-size="7.9" fill="#111" stroke="#111" stroke-width="0.17" textLength="41.8" lengthAdjust="spacingAndGlyphs" >Low : 28.76</text>
<rect x="16.8" y="249.6" width="480.6" height="295.2" fill="#fff" stroke="#404040" stroke-width="1.3"/>
<rect x="84.6" y="285.1" width="394.4" height="195.9" fill="#fff" stroke="#7f7f7f" stroke-width="0.8"/>
<text x="69.3" y="264.2" font-size="8.2" fill="#111" stroke="#111" stroke-width="0.18" textLength="159.5" lengthAdjust="spacingAndGlyphs" xml:space="preserve">(C) Profile analysis  results for line A–A'</text>
<text x="61.3" y="288.0" font-size="10.0" fill="#111" stroke="#111" stroke-width="0.22" textLength="11.9" lengthAdjust="spacingAndGlyphs" >65</text>
<text x="61.3" y="309.8" font-size="10.0" fill="#111" stroke="#111" stroke-width="0.22" textLength="11.9" lengthAdjust="spacingAndGlyphs" >60</text>
<text x="61.3" y="331.5" font-size="10.0" fill="#111" stroke="#111" stroke-width="0.22" textLength="11.9" lengthAdjust="spacingAndGlyphs" >55</text>
<text x="61.3" y="353.2" font-size="10.0" fill="#111" stroke="#111" stroke-width="0.22" textLength="11.9" lengthAdjust="spacingAndGlyphs" >50</text>
<text x="61.3" y="375.0" font-size="10.0" fill="#111" stroke="#111" stroke-width="0.22" textLength="11.9" lengthAdjust="spacingAndGlyphs" >45</text>
<text x="61.3" y="396.8" font-size="10.0" fill="#111" stroke="#111" stroke-width="0.22" textLength="11.9" lengthAdjust="spacingAndGlyphs" >40</text>
<text x="61.3" y="418.5" font-size="10.0" fill="#111" stroke="#111" stroke-width="0.22" textLength="11.9" lengthAdjust="spacingAndGlyphs" >35</text>
<text x="61.3" y="440.2" font-size="10.0" fill="#111" stroke="#111" stroke-width="0.22" textLength="11.9" lengthAdjust="spacingAndGlyphs" >30</text>
<text x="61.3" y="462.0" font-size="10.0" fill="#111" stroke="#111" stroke-width="0.22" textLength="11.9" lengthAdjust="spacingAndGlyphs" >25</text>
<text x="61.3" y="483.8" font-size="10.0" fill="#111" stroke="#111" stroke-width="0.22" textLength="11.9" lengthAdjust="spacingAndGlyphs" >20</text>
<text transform="translate(36.9,470.9) rotate(-90)" font-size="11.4" fill="#111" textLength="174.5" lengthAdjust="spacingAndGlyphs">Land surface temperature(<tspan font-size="0.82em" font-weight="normal">℃</tspan>)</text>
<text x="81.5" y="502.9" font-size="16.5" fill="#111" stroke="#111" stroke-width="0.35" textLength="11.7" lengthAdjust="spacingAndGlyphs" >A</text>
<text x="472.2" y="502.9" font-size="16.5" fill="#111" stroke="#111" stroke-width="0.35" textLength="15.4" lengthAdjust="spacingAndGlyphs" >A'</text>
<polyline points="84.6,344.5 85.0,330.0 85.2,314.0 86.2,313.5 87.0,316.0 87.6,322.0 88.4,318.0 89.4,321.0 90.5,325.0 91.4,320.0 92.6,316.5 94.0,314.8 95.4,316.0 97.0,317.6 98.2,315.0 99.4,312.6 100.6,312.0 101.8,313.0 103.0,312.0 104.4,313.0 105.6,315.0 106.6,317.5 107.6,321.0 108.2,328.0 108.5,345.0 108.7,365.0 108.9,371.0 109.1,381.7 110.1,389.5 110.9,397.3 112.4,405.2 114.2,406.1 115.2,401.2 116.1,409.1 116.3,428.6 117.1,434.5 118.1,428.6 119.1,418.8 120.0,428.6 121.0,426.6 122.0,416.9 123.4,424.7 124.5,432.5 125.3,416.9 126.5,432.5 127.5,422.7 128.8,412.0 130.0,420.8 131.2,411.0 132.3,412.0 133.7,418.8 134.7,428.6 135.7,440.3 137.0,443.2 138.2,438.4 139.2,422.7 140.2,432.5 141.1,428.6 142.1,401.2 143.1,392.5 144.5,395.4 145.6,393.4 147.4,396.4 149.3,395.4 151.3,397.3 153.2,401.2 154.6,397.3 156.2,402.2 157.5,399.3 158.7,405.2 159.5,418.8 160.1,434.5 161.6,436.4 162.4,426.6 163.6,435.4 165.0,428.6 166.9,432.5 168.9,424.7 170.0,426.6 171.6,414.9 172.7,424.7 173.9,416.9 175.5,413.9 176.6,420.8 177.8,428.6 179.4,434.5 180.7,435.4 181.7,416.9 182.9,428.6 184.1,432.5 185.2,416.9 186.4,433.5 187.2,407.1 188.0,428.6 189.1,433.5 190.3,424.7 191.5,428.6 193.0,416.9 193.8,412.0 195.0,422.7 196.2,427.6 197.3,416.9 198.5,413.9 199.7,420.8 200.9,416.9 202.0,426.6 203.2,436.4 204.4,430.5 205.2,417.9 206.3,426.6 207.5,432.5 208.7,428.6 209.8,416.9 210.6,407.1 211.8,412.0 213.0,416.9 214.1,411.0 215.3,413.9 216.5,409.1 217.7,412.0 218.8,405.2 220.0,408.1 221.2,401.2 222.3,397.3 223.5,393.4 224.3,399.3 225.5,409.1 226.2,420.8 227.0,432.5 227.8,440.3 229.4,443.2 230.9,438.4 232.5,440.3 234.1,436.4 235.2,439.3 236.4,433.5 237.6,437.4 238.8,440.3 239.9,445.2 241.5,448.1 243.0,449.1 244.6,446.2 245.8,440.3 247.0,438.4 248.1,434.5 249.3,439.3 250.5,443.2 251.6,438.4 252.8,436.4 254.0,438.4 255.2,432.5 256.3,435.4 257.5,430.5 258.7,432.5 260.0,428.6 261.6,433.5 262.7,428.6 263.5,409.1 264.3,395.4 265.9,393.4 267.0,397.3 267.8,409.1 268.6,434.5 269.4,445.2 270.9,444.2 272.5,445.2 274.1,443.8 275.6,444.8 277.2,443.4 278.8,444.4 280.3,443.0 281.9,443.8 283.0,442.3 284.2,446.2 284.6,428.6 285.2,389.5 285.9,350.5 286.3,340.5 286.7,350.5 287.2,389.5 287.7,399.3 288.9,402.2 290.1,404.2 291.2,399.3 292.4,406.1 293.2,399.3 294.4,408.1 295.5,405.2 296.7,412.0 297.9,413.9 298.7,422.7 299.5,430.5 300.6,433.5 301.8,428.6 303.0,430.5 303.8,418.8 304.5,393.4 305.3,383.7 306.9,381.3 308.4,382.7 309.6,389.5 310.4,409.1 311.2,436.4 312.0,446.2 313.1,453.0 314.3,448.1 315.5,444.2 316.6,436.4 317.8,432.5 319.0,434.5 320.2,439.3 321.3,435.4 322.5,432.5 323.7,437.4 324.8,435.4 326.0,440.3 327.2,443.2 328.4,439.3 329.5,445.2 330.7,438.4 331.9,436.4 333.0,442.3 334.2,440.3 335.4,445.2 336.6,443.2 337.7,447.1 338.9,444.2 340.1,448.1 341.2,445.2 342.4,449.1 343.6,444.2 344.8,448.1 345.9,443.2 347.1,447.1 348.3,445.2 349.5,441.3 350.0,442.3 351.6,447.1 353.1,445.2 354.7,444.2 356.2,440.3 357.4,428.6 358.2,409.1 359.0,395.4 359.8,392.5 360.5,405.2 361.3,401.2 362.1,407.1 362.9,395.4 363.3,393.4 363.5,412.7 363.8,393.2 364.0,411.8 364.2,391.1 364.4,415.0 364.6,388.0 364.9,424.5 365.1,389.7 365.3,411.4 365.5,386.0 365.8,411.8 366.0,380.7 366.2,415.7 366.4,381.9 366.7,412.4 366.9,375.9 367.1,417.9 367.3,377.9 367.6,417.3 367.8,372.2 368.0,421.7 368.2,368.9 368.5,420.4 368.7,370.1 368.9,412.6 369.1,368.9 369.4,414.4 369.6,372.8 369.8,413.0 370.0,372.7 370.3,418.0 370.5,372.8 370.7,417.0 370.9,372.3 371.2,411.7 371.4,373.2 371.6,418.5 371.8,373.0 372.1,414.5 372.3,372.3 372.5,416.0 372.7,370.6 373.0,419.7 373.2,373.0 373.4,413.7 373.6,373.5 373.9,416.8 374.1,379.0 374.3,419.0 374.5,379.1 374.8,421.8 375.0,380.1 375.2,415.6 375.4,385.0 375.7,412.7 375.9,384.6 376.1,411.4 376.3,387.0 376.6,419.4 376.8,388.8 377.0,420.6 377.2,389.5 377.5,418.6 377.0,416.9 377.7,434.5 378.5,442.3 379.3,428.6 380.5,424.7 381.6,422.7 382.8,419.8 384.0,416.9 385.2,412.0 386.3,409.1 387.1,411.0 387.9,416.9 388.7,412.0 389.8,410.0 391.0,418.8 392.2,424.7 393.4,422.7 394.1,414.9 394.9,407.1 396.1,401.2 396.9,404.2 397.7,409.1 398.8,406.1 400.0,409.1 401.2,405.2 402.3,408.1 403.5,404.2 404.7,406.1 405.9,410.0 407.0,408.1 408.2,412.0 409.4,409.1 410.5,412.0 411.7,408.1 412.9,411.0 414.1,413.9 415.2,412.0 416.4,415.9 417.6,413.0 418.8,416.9 419.9,413.9 421.1,417.9 422.3,408.1 423.4,414.9 424.6,412.0 425.8,416.9 427.0,414.9 428.1,417.9 429.3,421.8 430.5,416.9 431.6,409.1 432.8,399.3 434.0,394.4 435.2,393.4 436.3,399.3 437.5,401.2 438.7,403.2 439.8,402.2 441.0,406.1 442.2,403.2 443.4,405.2 444.5,408.1 445.7,415.9 446.9,411.0 448.0,407.1 449.2,408.1 449.6,408.1 450.8,405.2 452.0,408.1 453.1,406.2 454.3,408.1 455.5,405.2 456.6,407.1 457.8,404.2 459.0,408.1 459.8,412.0 460.9,406.2 462.1,404.2 463.3,405.2 464.5,403.2 465.6,405.2 466.8,404.2 468.0,408.1 469.1,412.0 470.3,408.1 471.5,414.0 472.7,410.1 473.8,419.8 475.0,412.0 476.2,416.9 477.3,413.0 478.5,415.9" fill="none" stroke="#c8650e" stroke-width="1.6" stroke-linejoin="round"/>
<polyline points="84.6,424.3 116.0,424.3 120.0,421.8 124.5,419.8 193.0,419.8 194.5,418.4 214.5,418.4 216.0,416.3 267.8,416.3 269.8,414.5 305.3,414.5 307.6,412.2 343.6,412.2 345.2,409.6 396.5,409.6 398.0,407.2 419.3,407.2 420.7,402.4 478.4,402.4" fill="none" stroke="#ff1010" stroke-width="1.5"/>
<text x="92.7" y="297.3" font-size="10.3" fill="#111" stroke="#111" stroke-width="0.23" textLength="62.5" lengthAdjust="spacingAndGlyphs" >Wooden deck</text>
<text x="200.3" y="363.6" font-size="10.3" fill="#111" stroke="#111" stroke-width="0.23" textLength="42.4" lengthAdjust="spacingAndGlyphs" >Bike path</text>
<text x="336.6" y="347.4" font-size="10.3" fill="#111" stroke="#111" stroke-width="0.23" textLength="60.5" lengthAdjust="spacingAndGlyphs" >Wooden stair</text>
<text x="425.0" y="373.5" font-size="10.3" fill="#111" stroke="#111" stroke-width="0.23" textLength="33.6" lengthAdjust="spacingAndGlyphs" >Square</text>
<text x="161.7" y="474.4" font-size="10.3" fill="#111" stroke="#111" stroke-width="0.23" textLength="47.2" lengthAdjust="spacingAndGlyphs" >Grassland</text>
<text x="313.0" y="474.4" font-size="10.3" fill="#111" stroke="#111" stroke-width="0.23" textLength="47.6" lengthAdjust="spacingAndGlyphs" >Grassland</text>
<line x1="119.6" y1="303.8" x2="113.6" y2="307.8" stroke="#111" stroke-width="1.10"/><polygon points="108.9,310.9 112.8,304.8 116.0,309.7" fill="#111"/>
<line x1="185.0" y1="370.0" x2="163.8" y2="386.6" stroke="#111" stroke-width="1.10"/><polygon points="159.4,390.0 162.8,383.7 166.4,388.2" fill="#111"/>
<line x1="216.5" y1="373.0" x2="216.5" y2="393.2" stroke="#111" stroke-width="1.10"/><polygon points="216.5,398.8 213.6,392.2 219.4,392.2" fill="#111"/>
<line x1="244.4" y1="373.0" x2="259.2" y2="387.1" stroke="#111" stroke-width="1.10"/><polygon points="263.2,391.0 256.4,388.5 260.4,384.3" fill="#111"/>
<line x1="257.3" y1="369.8" x2="299.1" y2="379.5" stroke="#111" stroke-width="1.10"/><polygon points="304.6,380.8 297.5,382.1 298.8,376.5" fill="#111"/>
<line x1="366.9" y1="355.2" x2="366.9" y2="363.2" stroke="#111" stroke-width="1.10"/><polygon points="366.9,368.8 364.0,362.2 369.8,362.2" fill="#111"/>
<line x1="441.4" y1="382.4" x2="441.4" y2="390.8" stroke="#111" stroke-width="1.10"/><polygon points="441.4,396.4 438.5,389.8 444.3,389.8" fill="#111"/>
<line x1="155.3" y1="462.3" x2="142.9" y2="450.5" stroke="#111" stroke-width="1.10"/><polygon points="138.8,446.6 145.6,449.0 141.6,453.3" fill="#111"/>
<line x1="186.5" y1="458.2" x2="186.5" y2="449.4" stroke="#111" stroke-width="1.10"/><polygon points="186.5,443.8 189.4,450.4 183.6,450.4" fill="#111"/>
<line x1="217.6" y1="463.0" x2="232.9" y2="449.0" stroke="#111" stroke-width="1.10"/><polygon points="237.0,445.2 234.1,451.8 230.2,447.5" fill="#111"/>
<line x1="305.6" y1="467.7" x2="292.7" y2="456.0" stroke="#111" stroke-width="1.10"/><polygon points="288.6,452.2 295.4,454.5 291.5,458.8" fill="#111"/>
<line x1="337.1" y1="463.4" x2="337.1" y2="453.8" stroke="#111" stroke-width="1.10"/><polygon points="337.1,448.2 340.0,454.8 334.2,454.8" fill="#111"/>
<line x1="367.6" y1="468.0" x2="393.0" y2="435.0" stroke="#111" stroke-width="1.10"/><polygon points="396.4,430.6 394.7,437.6 390.1,434.1" fill="#111"/>
<line x1="113" y1="523" x2="134" y2="523" stroke="#e0781a" stroke-width="1.4"/>
<text x="144.0" y="530.4" font-size="18.2" fill="#111" stroke="#111" stroke-width="0.35" textLength="101.0" lengthAdjust="spacingAndGlyphs" >UAV TIR LST</text>
<line x1="262" y1="523" x2="281" y2="523" stroke="#ff2020" stroke-width="1.4"/>
<text x="293.0" y="530.4" font-size="18.2" fill="#111" stroke="#111" stroke-width="0.35" textLength="147.0" lengthAdjust="spacingAndGlyphs" >Landsat 8 TIR LST</text>
</svg></body></html>
